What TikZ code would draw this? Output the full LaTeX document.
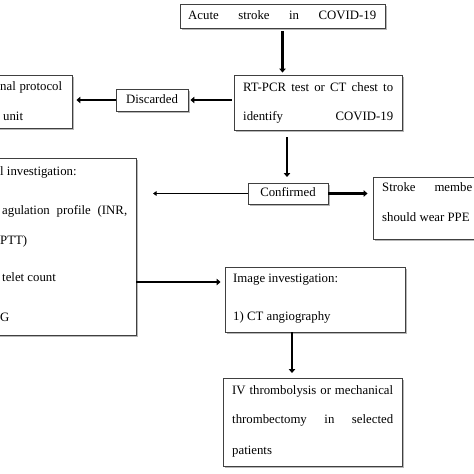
\documentclass[tikz,border=0pt]{standalone}
\usepackage{fontspec}
\setmainfont{Liberation Serif}
\usetikzlibrary{arrows.meta,shadows}
\begin{document}
\begin{tikzpicture}[x=1pt,y=-1pt,
  box/.style={draw=black!75, line width=0.9pt, fill=white, inner sep=0pt,
    drop shadow={shadow xshift=1.6pt, shadow yshift=-1.6pt, fill=black!35, opacity=0.8}},
  txt/.style={anchor=west, inner sep=0pt, text height=0.75em, text depth=0.1em,
    font=\fontsize{12.8}{15}\selectfont},
  ctxt/.style={txt, anchor=center},
  arr/.style={line width=2.4pt, -{Triangle[length=4pt,width=6.5pt]}},
  thinarr/.style={line width=1.3pt, -{Triangle[length=3.5pt,width=4.5pt]}}]
\useasboundingbox (0,0) rectangle (474,474);
\clip (0,0) rectangle (474,474);
\fill[white] (0,0) rectangle (474,474);

% boxes
\node[box, minimum width=205pt, minimum height=24pt] (acute) at (282.5,16) {};
\node[box, minimum width=168pt, minimum height=55pt] (rtpcr) at (318,102.5) {};
\node[box, minimum width=72pt, minimum height=22pt] (disc) at (152,100) {};
\node[box, minimum width=82pt, minimum height=53pt] (normal) at (31,101.5) {};
\node[box, minimum width=80pt, minimum height=21pt] (conf) at (288,193.5) {};
\node[box, minimum width=117pt, minimum height=62pt] (ppe) at (431.5,208) {};
\node[box, minimum width=146pt, minimum height=177pt] (lab) at (63,246.5) {};
\node[box, minimum width=180pt, minimum height=65pt] (img) at (315,299.5) {};
\node[box, minimum width=179pt, minimum height=88pt] (ivt) at (312.5,422) {};

% texts
\node[txt] (t1) at (188,16) {\makebox[188pt][s]{Acute stroke in COVID-19}};
\node[txt] (t2) at (243,88) {\makebox[150pt][s]{RT-PCR test or CT chest to}};
\node[txt] (t3) at (243,117) {\makebox[150pt][s]{identify COVID-19}};
\node[ctxt] (t4) at (152,100) {Discarded};
\node[txt] (t5) at (0,87) {\makebox[62pt][s]{nal protocol}};
\node[txt] (t6) at (3,117) {unit};
\node[ctxt] (t7) at (288,193.5) {Confirmed};
\node[txt] (t8) at (382,188) {\makebox[90pt][s]{Stroke membe}};
\node[txt] (t9) at (382,218) {should wear PPE};
\node[txt] (t10) at (0,172) {l investigation:};
\node[txt] (t11) at (2,211) {\makebox[125pt][s]{agulation profile (INR,}};
\node[txt] (t12) at (0,241) {PTT)};
\node[txt] (t13) at (2,278) {telet count};
\node[txt] (t14) at (0,318) {G};
\node[txt] (t15) at (233,279) {Image investigation:};
\node[txt] (t16) at (233,317) {1) CT angiography};
\node[txt] (t17) at (232,391) {\makebox[161pt][s]{IV thrombolysis or mechanical}};
\node[txt] (t18) at (232,420) {\makebox[161pt][s]{thrombectomy in selected}};
\node[txt] (t19) at (232,451) {patients};

% connectors
\coordinate (c1) at (153,193.5);
\draw[arr, shorten <=3pt, shorten >=2pt] (acute.south) -- (acute.south |- rtpcr.north);
\draw[arr, shorten <=2pt, shorten >=2pt] (rtpcr.west |- disc.east) -- (disc.east);
\draw[arr, shorten >=4pt] (disc.west) -- (disc.west -| normal.east);
\draw[arr, shorten <=7pt, shorten >=6pt] (287,130) -- (287,183);
\draw[thinarr] (conf.west) -- (c1);
\draw[arr, shorten >=5pt] (conf.east) -- (conf.east -| ppe.west);
\draw[arr, shorten >=4pt] (lab.east |- 0,282) -- (img.west |- 0,282);
\draw[arr, shorten >=5pt] (292,332) -- (292,378);
\end{tikzpicture}
\end{document}
